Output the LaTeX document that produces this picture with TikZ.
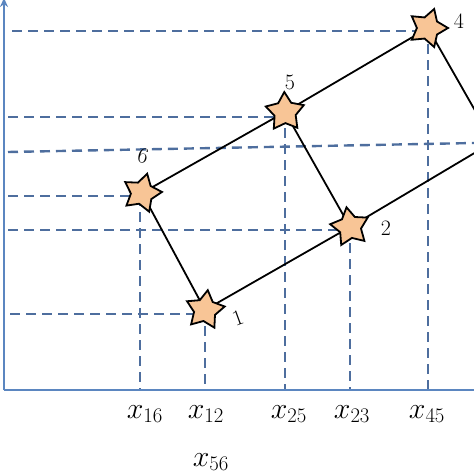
\documentclass[tikz,border=0pt]{standalone}
\usetikzlibrary{shapes.geometric,arrows.meta}
\definecolor{dashblue}{HTML}{4E6E9E}
\definecolor{axisblue}{HTML}{5B86C0}
\definecolor{starfill}{HTML}{F8C596}
\tikzset{
  pt/.style={star, star points=5, star point ratio=1.8, minimum size=40pt, inner sep=0pt,
             draw=black, line width=1.8pt, fill=starfill},
  proj/.style={draw=dashblue, line width=2.4pt, dash pattern=on 10pt off 6pt},
  edge/.style={draw=black, line width=1.8pt},
  axis/.style={draw=axisblue, line width=2pt},
  num/.style={font=\fontsize{22}{26}\selectfont},
  xlab/.style={font=\fontsize{24}{28}\selectfont, scale=1.2}
}
\begin{document}
\begin{tikzpicture}[x=1pt,y=-1pt]
\useasboundingbox (0,0) rectangle (474,474);
\clip (0,0) rectangle (474,474);
% coordinates
\coordinate (p1) at (205,310);
\coordinate (p2) at (350,227);
\coordinate (p4) at (428,28);
\coordinate (p5) at (285,112);
\coordinate (p6) at (142,193);
\coordinate (p3) at (493,142);
% horizontal projections
\coordinate (h4) at (12,31);
\coordinate (h5) at (8,117);
\coordinate (h3a) at (8,152);
\coordinate (h3b) at (474,143);
\coordinate (h6) at (8,196);
\coordinate (h2) at (8,230);
\coordinate (h1) at (10,314);
\draw[proj] (h4) -- (p4 |- h4);
\draw[proj] (h5) -- (p5 |- h5);
\draw[proj] (h3a) -- (h3b);
\draw[proj] (h6) -- (p6 |- h6);
\draw[proj] (h2) -- (p2 |- h2);
\draw[proj] (h1) -- (p1 |- h1);
% vertical projections
\coordinate (v6) at (140,390);
\coordinate (v1) at (205,390);
\coordinate (v5) at (285,390);
\coordinate (v2) at (350,390);
\coordinate (v4) at (428,390);
\draw[proj] (140,196) -- (v6);
\draw[proj] (p1) -- (v1);
\draw[proj] (p5) -- (v5);
\draw[proj] (p2) -- (v2);
\draw[proj] (p4) -- (v4);
% axes
\coordinate (o) at (4,390);
\coordinate (ytop) at (4,-2);
\coordinate (xend) at (474,390);
\draw[axis, -{Stealth[length=9pt,width=8pt]}] (o) -- (ytop);
\draw[axis] (o) -- (xend);
% edges
\draw[edge] (p6) -- (p5) -- (p4) -- (p3) -- (p2) -- (p1) -- (p6);
\draw[edge] (p5) -- (p2);
% stars
\node[pt, rotate=-8] (s1) at (p1) {};
\node[pt, rotate=10] (s2) at (p2) {};
\node[pt, rotate=-18] (s4) at (p4) {};
\node[pt, rotate=2] (s5) at (p5) {};
\node[pt, rotate=-15] (s6) at (p6) {};
% labels
\node[num, rotate=20] (l1) at (238,318) {1};
\node[num] (l2) at (386,228) {2};
\node[num] (l4) at (459,21) {4};
\node[num] (l5) at (290,82) {5};
\node[num, rotate=-15] (l6) at (143,156) {6};
\node[xlab] (x16) at (145,414) {$x_{16}$};
\node[xlab] (x12) at (206,414) {$x_{12}$};
\node[xlab] (x25) at (289,414) {$x_{25}$};
\node[xlab] (x23) at (352,414) {$x_{23}$};
\node[xlab] (x45) at (427,414) {$x_{45}$};
\node[xlab] (x56) at (211,462) {$x_{56}$};
\end{tikzpicture}
\end{document}
